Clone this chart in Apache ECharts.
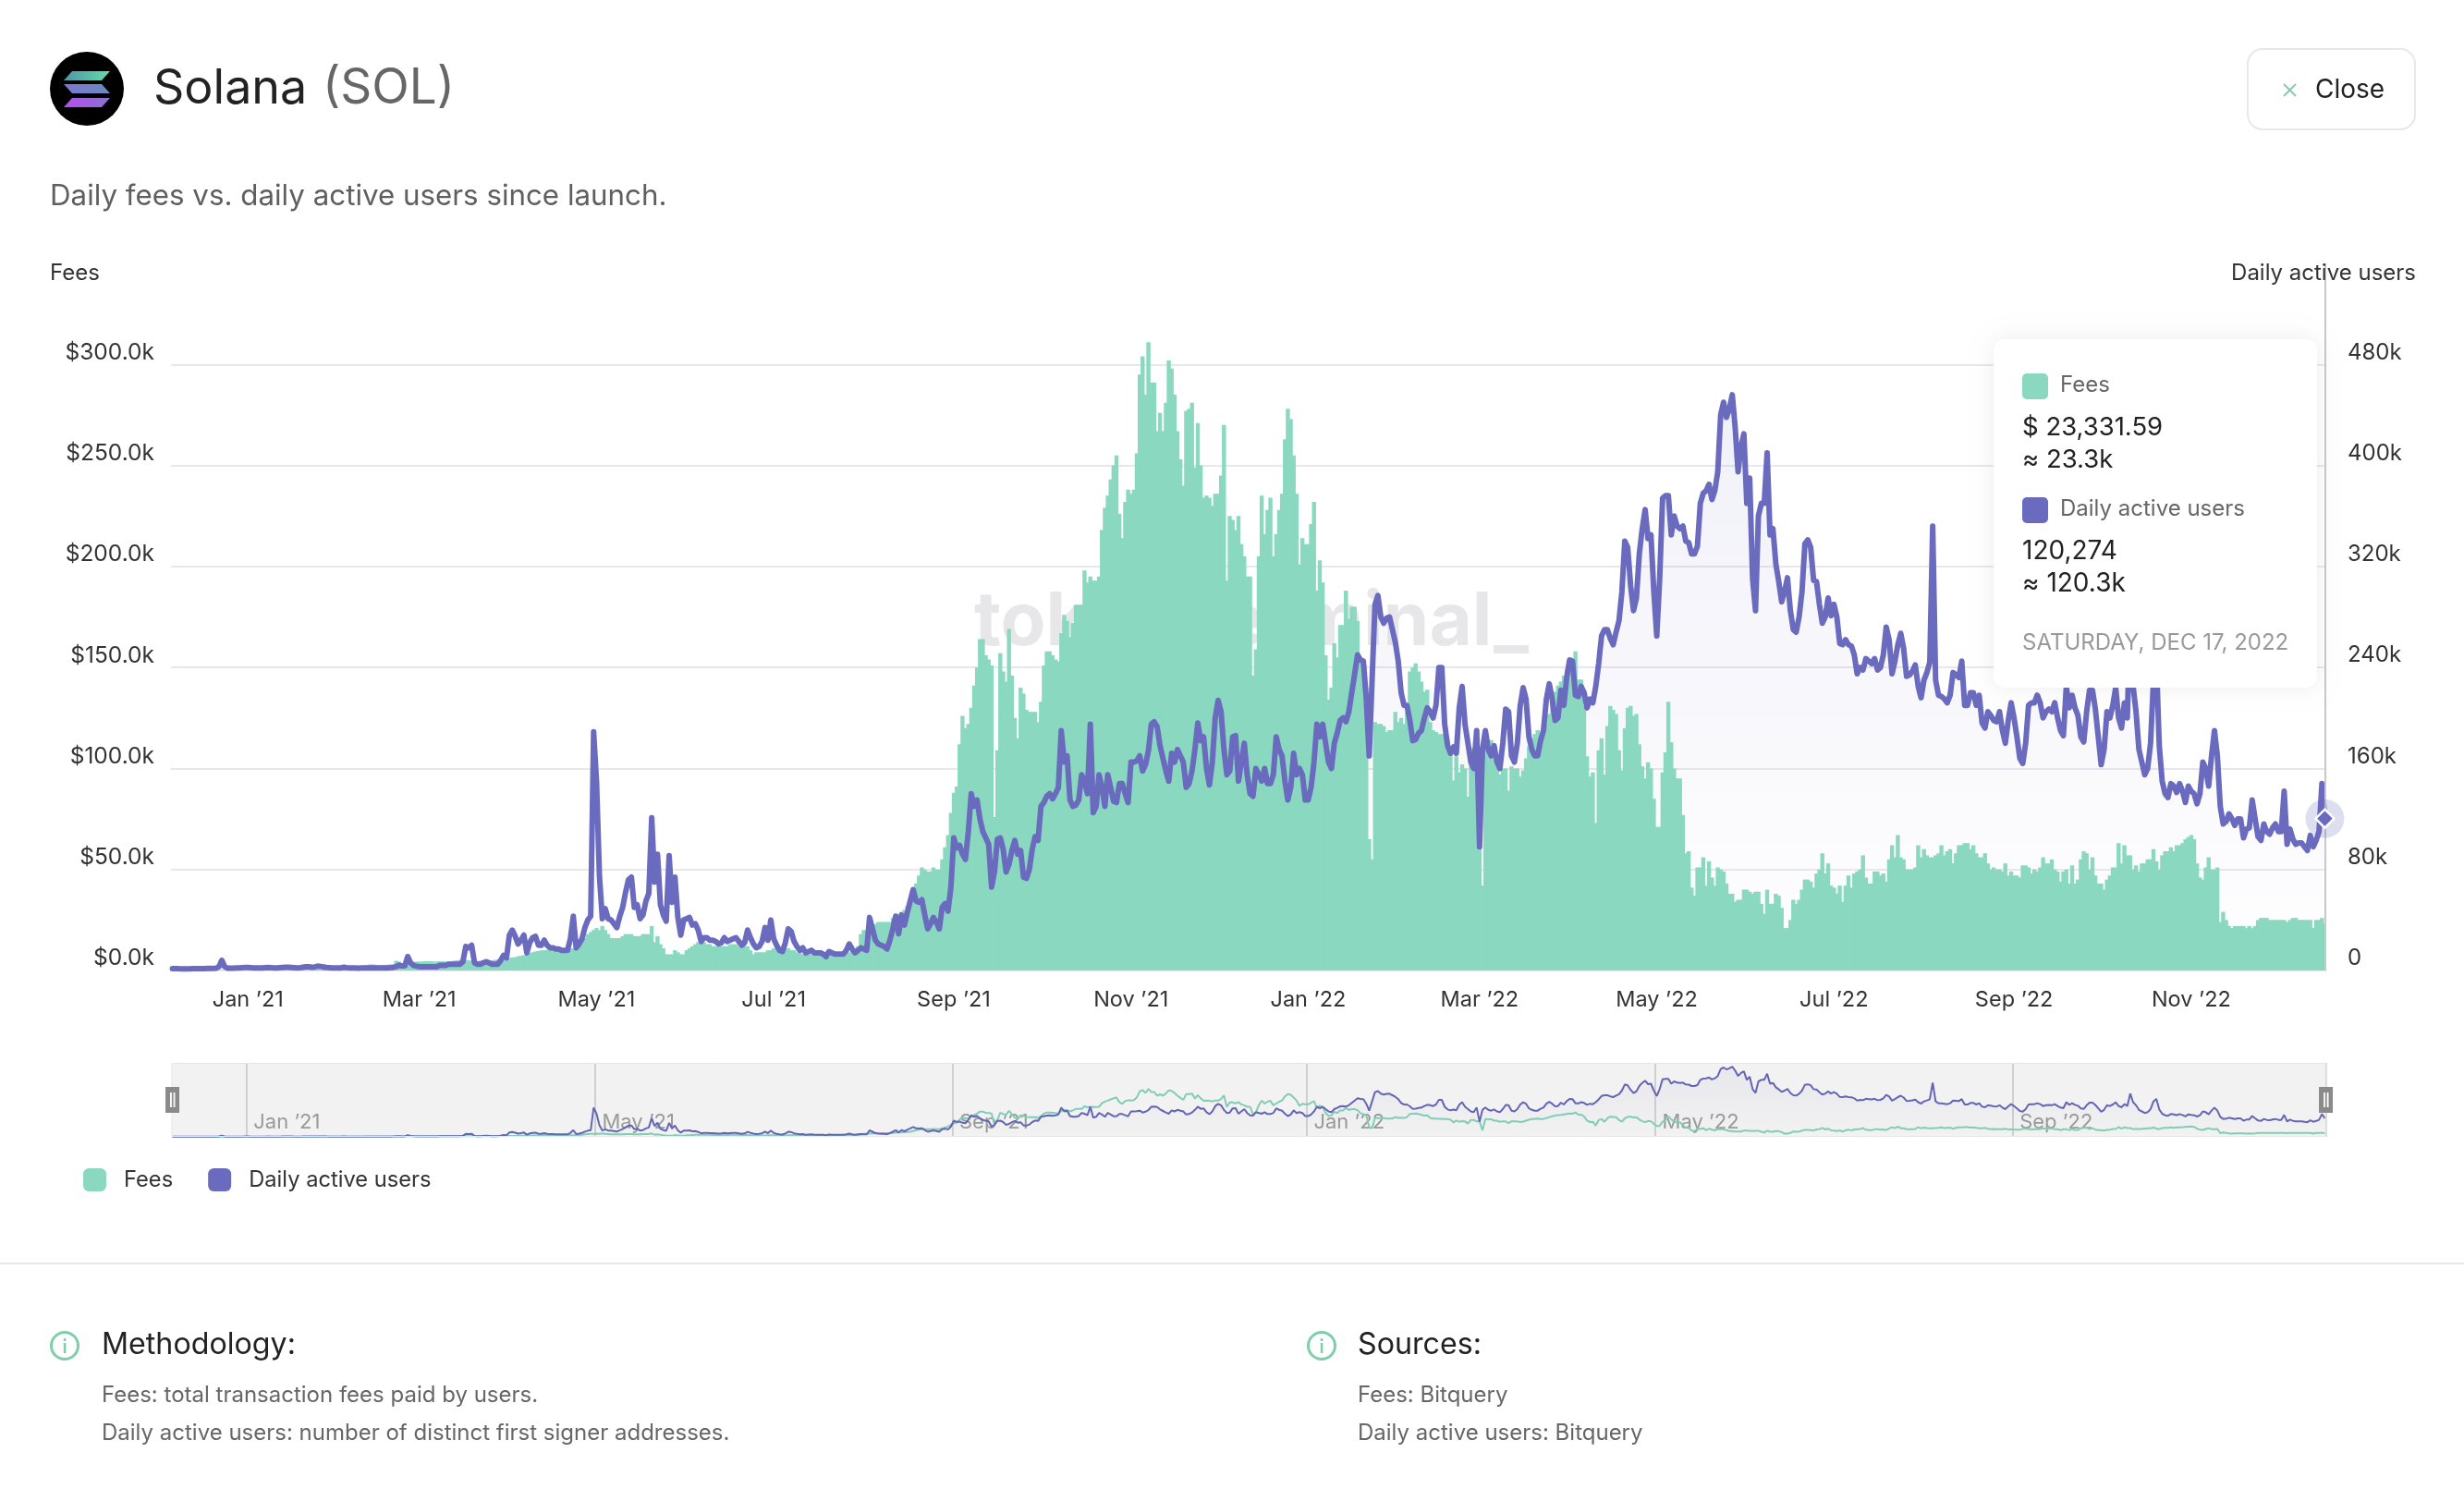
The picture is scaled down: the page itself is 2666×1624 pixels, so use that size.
<!DOCTYPE html>
<html><head><meta charset="utf-8">
<style>html,body{margin:0;padding:0;background:#fff}#c{width:2666px;height:1624px}</style>
<script src="https://cdn.jsdelivr.net/npm/echarts@6/dist/echarts.min.js"></script>
</head><body><div id="c"></div>
<script>
// Fees per day, in $ thousands, month by month
const feesDec20=[.1,.1,.1,.1,.1,.1,.1,.1,.1,.1, .1,.1,.1,.1,.1,.1,.1,.2,.1,.1, .1,.1,.1,.1,.1,.2];
const feesJan21=[.2,.2,.2,.2,.2,.3,.3,.3,.3,.3, .3,.4,.4,.4,.4,.4,.5,.5,.5,.5, .6,.6,.6,.6,.7,.7,.8,.8,.8,.9, .9];
const feesFeb21=[1,1,1.2,1.2,1.2,1.4,1.4,1.6,1.8,2, 2.6,3,3,2.8,2.6,2.6,2.8,2.8,3,3, 4.8,4.4,3.4,3.6,3.8,4.4,4.2,4.4];
const feesMar21=[4.4,4.4,4.6,4.6,4.6,4.4,4.4,4.6,4.6,4.4, 4.4,4.6,4.8,5,5.2,5.4,5.2,5,4.8,4.6, 4.6,4.8,5,5,5,5,5.2,5.4,5.6,5.8, 6];
const feesApr21=[6,6.4,6.6,7,7.2,7.6,8,8.6,9,9.4, 9.6,10,10,10.2,10.4,10,10,9.8,10,10, 10.4,10.6,11,11.4,12,14,16,18,19,20];
const feesMay21=[21,20,22,20,18,16,16,16,16,17, 18,18,18,17,17,17,18,18,18,22, 14,17,13,11,8,8,8,10,9,8, 8];
const feesJun21=[10,11,12,13,14,14,14,13,13,12, 12,12,12,12,12,13,13,13,12,12, 12,12,10,8,9,9,9,9,10,10];
const feesJul21=[11,11,11,11,11,11,10,10,9,9, 8,8,8,8,8,8,8,8,8,8, 8,8,9,9,9,9,9,10,11,12, 18];
const feesAug21=[20,20,21,22,23,24,24,24,24,24, 26,27,28,29,30,32,33,38,43,47, 51,50,49,49,51,50,50,55,61,67, 78];
const feesSep21=[88,91,112,126,120,122,130,141,150,164, 164,156,154,151,76,109,157,148,143,169, 146,125,115,140,137,129,128,128,128,123];
const feesOct21=[133,151,158,158,156,154,153,167,176,173, 165,172,181,181,181,198,192,195,193,193, 195,218,229,235,243,250,255,226,214,232, 238];
const feesNov21=[236,238,256,295,304,285,311,291,291,267, 276,267,281,302,298,285,267,253,240,277, 278,281,249,271,250,234,235,234,230,236];
const feesDec21=[236,245,270,193,225,223,218,225,211,205, 195,195,146,159,205,235,216,228,234,205, 216,228,236,263,278,273,255,236,201,214, 211];
const feesJan22=[211,221,232,188,203,192,156,134,140,162, 155,171,171,188,174,180,180,173,154,148, 140,65,55,123,122,122,121,118,119,119, 128];
const feesFeb22=[123,125,122,128,148,150,152,148,143,138, 139,123,119,118,117,117,115,115,111,94, 106,98,102,100,86,110,110,100];
const feesMar22=[100,42,115,114,114,105,105,97,100,100, 89,101,100,100,96,99,105,111,115,117, 119,116,116,122,127,134,138,141,143,146, 149];
const feesApr22=[152,150,158,144,144,131,106,96,98,73, 109,115,97,121,131,129,127,109,99,120, 130,131,126,127,112,101,95,103,100,85];
const feesMay22=[71,71,98,108,133,113,100,95,95,77, 58,59,41,37,51,51,56,42,54,46, 42,51,50,49,43,38,38,34,35,35, 40];
const feesJun22=[40,39,38,39,39,33,28,40,33,33, 38,37,31,21,21,25,35,33,35,40, 45,45,44,41,48,50,58,48,53,42];
const feesJul22=[41,38,42,34,42,47,41,48,49,50, 57,46,43,43,49,49,47,48,44,55, 62,56,67,56,55,50,50,50,51,62, 56];
const feesAug22=[60,57,56,56,57,58,62,57,59,60, 53,58,62,62,63,63,60,62,58,56, 56,58,53,50,51,50,50,49,53,47, 49];
const feesSep22=[47,47,46,52,52,51,48,50,49,51, 56,53,53,55,50,49,44,49,50,43, 52,43,45,55,59,58,50,56,47,43];
const feesOct22=[43,40,45,47,51,51,63,53,62,57, 57,50,52,49,53,53,55,55,60,54, 50,57,59,59,61,59,62,62,63,65, 66];
const feesNov22=[67,65,53,46,45,51,56,50,50,51, 24,29,25,22,21,22,22,22,22,21, 22,21,22,25,26,26,26,25,25,25];
const feesDec22=[25,25,25,24,25,26,26,25,25,25, 25,25,21,25,25,26,23.33159];

// Daily active users, in thousands, month by month
const usersDec20=[1.5,1.5,1.5,1.2,1.2,1.3,1.3,1.4,1.4,1.5, 1.5,1.5,1.6,1.6,1.7,1.8,3,8,3,1.8, 1.8,1.9,2,2,2.2,2.4];
const usersJan21=[2.4,2.2,2,2,2,2,2.2,2.4,2.2,2, 2,2.2,2.4,2.6,2.6,2.4,2.2,2,2.2,2.6, 3,3,2.6,2.8,3.4,3.2,2.8,2.4,2.2,2, 2];
const usersFeb21=[2,2,2.6,2.2,2,2,2,1.8,2,2, 2,2,2,2,2,2,2,2,2.2,2.4, 3,4.2,3.6,3.6,11,6,4,3.4];
const usersMar21=[3,3,3,3,3,3,3,4,4,4, 5,5,5,5,5,7,19,18,20,6, 5,5,6,7,6,5,5,5,8,12, 10];
const usersApr21=[28,32,27,21,24,28,14,22,26,27, 20,20,24,20,18,18,17,17,16,16, 16,25,43,18,21,25,34,40,43,189];
const usersMay21=[150,75,41,49,41,40,37,34,43,50, 62,72,74,50,52,41,44,55,61,121, 70,92,52,44,39,91,54,74,42,28, 40];
const usersJun21=[41,42,36,37,32,23,26,26,24,24, 23,21,22,26,23,24,25,26,23,20, 22,32,26,21,18,19,23,34,24,40];
const usersJul21=[25,20,16,15,22,33,31,23,19,16, 18,14,15,16,14,14,14,13,11,15, 14,13,13,13,13,16,21,17,14,16, 18];
const usersAug21=[17,16,42,33,24,21,20,19,17,24, 33,43,29,44,36,46,55,64,55,54, 56,44,33,37,42,38,33,50,53,47, 66];
const usersSep21=[105,97,99,92,88,110,140,130,135,120, 110,105,100,66,78,104,105,96,78,84, 95,103,92,95,74,73,80,96,106,103];
const usersOct21=[130,133,138,140,136,140,145,190,165,170, 135,130,131,135,155,150,140,195,125,130, 155,145,130,155,145,134,133,148,148,140, 133];
const usersNov21=[165,165,166,170,158,163,174,195,197,193, 178,168,158,150,172,165,175,170,165,145, 148,158,175,196,182,185,160,147,165,200];
const usersDec21=[214,205,175,155,158,185,186,150,165,180, 155,140,138,160,155,150,160,148,148,155, 185,175,170,150,135,145,172,155,160,155, 135];
const usersJan22=[135,145,165,195,185,195,180,165,160,180, 188,198,200,197,205,220,235,250,246,245, 215,170,230,290,297,280,275,279,280,270, 260];
const usersFeb22=[245,220,210,210,198,182,183,188,190,200, 208,205,200,210,240,240,195,178,172,177, 172,208,225,195,180,165,160,190];
const usersMar22=[98,175,190,175,170,178,165,160,180,207, 205,170,165,180,210,224,215,185,175,170, 170,182,190,215,227,215,198,200,222,210, 232];
const usersApr22=[246,245,218,217,225,220,208,215,212,225, 243,265,270,270,263,258,268,277,300,340, 335,305,285,295,330,350,365,342,345,300];
const usersMay22=[265,310,374,376,376,345,360,352,350,352, 340,339,330,330,336,370,378,380,385,373, 380,395,440,450,438,445,456,430,395,415, 425];
const usersJun22=[370,390,310,285,360,370,370,410,345,350, 322,308,292,300,311,285,270,268,280,300, 338,341,335,309,308,290,275,280,295,281];
const usersJul22=[290,280,259,258,262,258,257,250,235,240, 238,247,245,243,247,238,240,250,272,262, 235,245,258,267,255,233,234,237,242,225, 216];
const usersAug22=[230,236,244,352,230,218,217,215,212,218, 236,234,232,245,210,210,220,220,210,218, 196,192,205,202,198,197,205,190,180,198, 212];
const usersSep22=[200,185,168,164,180,210,212,212,218,212, 200,205,207,205,212,200,190,186,225,208, 218,208,202,185,181,205,222,222,207,185];
const usersOct22=[163,175,205,200,210,224,200,192,212,200, 281,225,205,175,165,155,160,180,230,246, 178,150,140,137,148,146,141,148,142,133, 146];
const usersNov22=[142,140,132,140,165,160,146,170,190,170, 130,116,118,124,120,115,120,120,105,112, 113,135,120,106,103,116,110,108,113,116];
const usersDec22=[110,110,142,100,112,104,100,101,101,98, 95,107,98,103,110,148,120.274];

const feeMonths=[feesDec20,feesJan21,feesFeb21,feesMar21,feesApr21,feesMay21,feesJun21,feesJul21,feesAug21,feesSep21,feesOct21,feesNov21,feesDec21,feesJan22,feesFeb22,feesMar22,feesApr22,feesMay22,feesJun22,feesJul22,feesAug22,feesSep22,feesOct22,feesNov22,feesDec22];
const userMonths=[usersDec20,usersJan21,usersFeb21,usersMar21,usersApr21,usersMay21,usersJun21,usersJul21,usersAug21,usersSep21,usersOct21,usersNov21,usersDec21,usersJan22,usersFeb22,usersMar22,usersApr22,usersMay22,usersJun22,usersJul22,usersAug22,usersSep22,usersOct22,usersNov22,usersDec22];
const monthLengths=[26,31,28,31,30,31,30,31,31,30,31,30,31,31,28,31,30,31,30,31,31,30,31,30,17];
const monthNames=['Jan','Feb','Mar','Apr','May','Jun','Jul','Aug','Sep','Oct','Nov','Dec'];

const fees=feeMonths.flat().map(v=>v*1000);
const users=userMonths.flat().map(v=>v*1000);
const categories=[],monthOfCat=[];
monthLengths.forEach((n,m)=>{for(let d=0;d<n;d++){const mm=(m+11)%12,yy=m===0?20:(m<=12?21:22);
  categories.push(monthNames[mm]+' ’'+yy+(d===0&&m>0?'':'#'+d));monthOfCat.push(d===0&&m>0?mm:-1);}});
const isEvenMonthStart=i=>monthOfCat[i]>=0&&monthOfCat[i]%2===0;
const isFourthMonthStart=i=>monthOfCat[i]>=0&&monthOfCat[i]%4===0;
const last=categories.length-1;
const F='Inter, "Noto Sans", sans-serif', GREEN='#89d8bf', PURPLE='#6a6bbf';

const txt=(x,y,text,size,fill,extra)=>Object.assign({type:'text',x,y,z:50,silent:true,
  style:Object.assign({text,fontSize:size,fontFamily:F,fill,align:'left',textAlign:'left',verticalAlign:'middle',textVerticalAlign:'middle'},extra||{})});
const box=(x,y,w,h,r,style,z)=>({type:'rect',z:z||50,silent:true,shape:{x,y,width:w,height:h,r},style});
const lin=(x1,y1,x2,y2,stroke,w,z)=>({type:'line',z:z||50,silent:true,shape:{x1,y1,x2,y2},style:{stroke,lineWidth:w}});
const grad=(a,b)=>new echarts.graphic.LinearGradient(0,0,1,0,[{offset:0,color:a},{offset:1,color:b}]);
const poly=(points,fill)=>({type:'polygon',z:50,silent:true,shape:{points},style:{fill}});
const info=(cx,cy)=>[{type:'circle',z:50,silent:true,shape:{cx,cy,r:14.5},style:{fill:'none',stroke:'#7ecfa9',lineWidth:3}},
  box(cx-1.2,cy-8,2.6,3,0,{fill:'#7ecfa9'}),box(cx-1.2,cy-3,2.6,11,0,{fill:'#7ecfa9'})];

const graphics=[
  {type:'text',x:1054,y:674,z:0,silent:true,style:{text:'token terminal_',fontSize:80,fontWeight:700,fontFamily:F,fill:'#e7e7ea',align:'left',textAlign:'left',verticalAlign:'middle',textVerticalAlign:'middle'}},
  {type:'circle',z:50,silent:true,shape:{cx:94,cy:96,r:40},style:{fill:'#000'}},
  poly([[69,87],[78,77],[119,77],[110,87]],grad('#4f95a8','#62dca8')),
  poly([[69,91],[110,91],[119,101],[78,101]],grad('#7a78d0','#6a8ac0')),
  poly([[69,116],[78,106],[119,106],[110,116]],grad('#b44ff0','#8a72d0')),
  txt(166,96,'Solana',52,'#222'),
  txt(349,96,'(SOL)',53,'#666'),
  txt(54,213,'Daily fees vs. daily active users since launch.',31.3,'#5f5f5f'),
  txt(54,296,'Fees',24,'#333'),
  txt(2614,296,'Daily active users',24,'#333',{align:'right',textAlign:'right'}),
  box(2432,53,181,87,16,{fill:'#fff',stroke:'#e8e8e8',lineWidth:2}),
  lin(2471,91,2484,104,'#7ecfa9',2), lin(2484,91,2471,104,'#7ecfa9',2),
  txt(2505,98,'Close',28,'#222'),
  // tooltip card
  box(2157,367,350,377,12,{fill:'#fff',shadowBlur:22,shadowColor:'rgba(0,0,0,0.07)'},60),
  box(2188,404,28,28,5,{fill:GREEN},61),
  Object.assign(txt(2229,417,'Fees',24,'#666'),{z:61}),
  Object.assign(txt(2188,463,'$ 23,331.59',27.5,'#222'),{z:61}),
  Object.assign(txt(2188,498,'≈ 23.3k',27.5,'#222'),{z:61}),
  box(2188,538,28,28,5,{fill:PURPLE},61),
  Object.assign(txt(2229,551,'Daily active users',24,'#666'),{z:61}),
  Object.assign(txt(2188,597,'120,274',28,'#222'),{z:61}),
  Object.assign(txt(2188,632,'≈ 120.3k',28,'#222'),{z:61}),
  Object.assign(txt(2188,696,'SATURDAY, DEC 17, 2022',24,'#999'),{z:61}),
  // footer
  lin(0,1367,2666,1367,'#e8e8e8',2),
  ...info(70,1456),
  txt(110,1455,'Methodology:',32.2,'#222'),
  txt(110,1510,'Fees: total transaction fees paid by users.',24,'#666'),
  txt(110,1551,'Daily active users: number of distinct first signer addresses.',24,'#666'),
  ...info(1430,1456),
  txt(1469,1455,'Sources:',32.2,'#222'),
  txt(1469,1510,'Fees: Bitquery',24,'#666'),
  txt(1469,1551,'Daily active users: Bitquery',24,'#666')
];

const chart=echarts.init(document.getElementById('c'),null,{width:2666,height:1624,renderer:'canvas'});
chart.setOption({
  animation:false,backgroundColor:'#fff',
  textStyle:{fontFamily:F},
  graphic:{elements:graphics},
  legend:{left:85,top:1259,itemWidth:25,itemHeight:25,itemGap:38,icon:'roundRect',selectedMode:false,
    data:['Fees','Daily active users'],textStyle:{fontSize:23.7,color:'#333',fontFamily:F,padding:[0,0,0,14]}},
  grid:[{left:185,right:149,top:285,height:765},{left:185,right:149,top:1150,height:80}],
  xAxis:[
    {type:'category',gridIndex:0,data:categories,boundaryGap:true,
     axisLine:{lineStyle:{color:'#e8e8ee',width:2}},
     axisTick:{alignWithLabel:true,length:16,interval:isEvenMonthStart,lineStyle:{color:'#d6d9e6',width:2}},
     axisLabel:{interval:isEvenMonthStart,margin:20,fontSize:23.5,color:'#333',fontFamily:F,formatter:v=>v.split('#')[0]},
     splitLine:{show:false}},
    {type:'category',gridIndex:1,data:categories,boundaryGap:true,
     axisLine:{show:false},axisTick:{show:false},
     axisLabel:{interval:isFourthMonthStart,inside:true,margin:5,align:'left',padding:[0,0,0,6],fontSize:22,color:'#a3a3a3',fontFamily:F,formatter:v=>v.split('#')[0]},
     splitLine:{show:true,interval:isFourthMonthStart,lineStyle:{color:'#dcdcdc',width:2}}}
  ],
  yAxis:[
    {type:'value',gridIndex:0,min:0,max:350000,interval:50000,position:'left',
     axisLine:{show:false},axisTick:{show:false},
     axisLabel:{margin:18,fontSize:24.5,color:'#333',verticalAlign:'bottom',lineHeight:26,fontFamily:F,
       formatter:v=>v>300000?'':'$'+(v/1000).toFixed(1)+'k'},
     splitLine:{showMaxLine:false,lineStyle:{color:'#e8e8ec',width:2}}},
    {type:'value',gridIndex:0,min:0,max:560000,interval:80000,position:'right',
     axisLine:{show:false},axisTick:{show:false},
     axisLabel:{margin:23,fontSize:24,color:'#333',verticalAlign:'bottom',lineHeight:26,fontFamily:F,
       formatter:v=>v>480000?'':(v===0?'0':(v/1000)+'k')},
     splitLine:{show:false}},
    {type:'value',gridIndex:1,min:0,max:480000,show:false}
  ],
  dataZoom:[{type:'slider',xAxisIndex:[0,1],start:0,end:100,left:185,right:149,top:1150,height:80,
    backgroundColor:'transparent',fillerColor:'rgba(0,0,0,0.052)',borderColor:'#e6e6e6',borderRadius:0,
    showDataShadow:false,showDetail:false,brushSelect:false,moveHandleSize:0,zoomLock:true,
    handleIcon:'path://M0,0H15V28H0Z M5,6V22H7V6Z M8.5,6V22H10.5V6Z',handleSize:28,
    handleStyle:{color:'#8a8a8a',borderWidth:0}}],
  series:[
    {name:'area',type:'line',xAxisIndex:0,yAxisIndex:1,data:users,z:1,showSymbol:false,silent:true,
     lineStyle:{width:0},itemStyle:{color:PURPLE},
     areaStyle:{color:new echarts.graphic.LinearGradient(0,0,0,1,[{offset:0,color:'rgba(106,107,192,0.14)'},{offset:1,color:'rgba(106,107,192,0.005)'}])}},
    {name:'Fees',type:'bar',xAxisIndex:0,yAxisIndex:0,data:fees,z:2,barCategoryGap:0,barWidth:4.4,
     itemStyle:{color:GREEN}},
    {name:'Daily active users',type:'line',xAxisIndex:0,yAxisIndex:1,data:users,z:3,showSymbol:false,
     lineStyle:{color:PURPLE,width:6,join:'round',cap:'round'},itemStyle:{color:PURPLE},
     markLine:{silent:true,symbol:'none',label:{show:false},lineStyle:{color:'#c8c8c8',width:2,type:'solid'},data:[{xAxis:categories[last]}]},
     markPoint:{silent:true,label:{show:false},data:[
       {coord:[categories[last],users[last]],symbol:'circle',symbolSize:42,itemStyle:{color:'rgba(106,107,192,0.22)'}},
       {coord:[categories[last],users[last]],symbol:'diamond',symbolSize:20,itemStyle:{color:PURPLE,borderColor:'#fff',borderWidth:2.5}}]}},
    {name:'Fees overview',type:'line',xAxisIndex:1,yAxisIndex:2,data:fees,z:3,showSymbol:false,silent:true,
     lineStyle:{color:GREEN,width:2},itemStyle:{color:GREEN}},
    {name:'Users overview',type:'line',xAxisIndex:1,yAxisIndex:2,data:users,z:3,showSymbol:false,silent:true,
     lineStyle:{color:PURPLE,width:2},itemStyle:{color:PURPLE},
     areaStyle:{color:new echarts.graphic.LinearGradient(0,0,0,1,[{offset:0,color:'rgba(106,107,192,0.10)'},{offset:1,color:'rgba(106,107,192,0)'}])}}
  ]
});
</script></body></html>
